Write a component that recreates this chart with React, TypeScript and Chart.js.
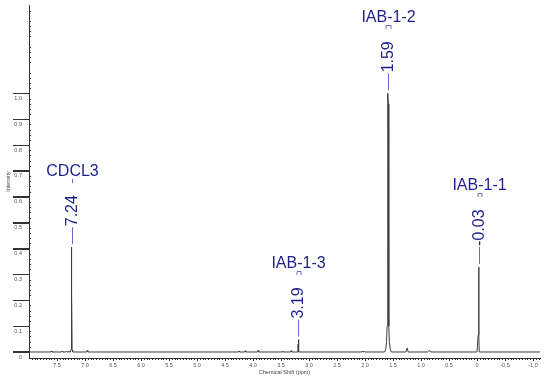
import React, { useEffect, useRef } from 'react';
import { Chart, registerables } from 'chart.js';

Chart.register(...registerables);

// Spectrum (chemical shift in ppm, intensity)
const ppm = [
  8.0, 7.61, 7.6, 7.59, 7.42, 7.41, 7.4, 7.34, 7.33, 7.32, 7.3, 7.29, 7.28,
  7.26, 7.25, 7.245, 7.24, 7.235, 7.23, 7.22,
  6.97, 6.96, 6.95,
  4.26, 4.25, 4.24, 4.15, 4.14, 4.13, 3.92, 3.91, 3.9,
  3.48, 3.47, 3.46, 3.33, 3.32, 3.31,
  3.2, 3.195, 3.19, 3.185, 3.18,
  2.06, 2.05, 2.04, 2.02, 2.01, 2.0,
  1.65, 1.63, 1.615, 1.605, 1.598, 1.59, 1.582, 1.575, 1.565, 1.55, 1.53,
  1.27, 1.255, 1.245, 1.23,
  0.88, 0.86, 0.84, 0.82,
  0.0, -0.02, -0.03, -0.035, -0.04,
  -1.125,
];
const intensity = [
  0, 0, 0.004, 0, 0, 0.003, 0, 0, 0.003, 0, 0, 0.004, 0,
  0, 0.01, 0.24, 0.405, 0.24, 0.008, 0,
  0, 0.006, 0,
  0, 0.004, 0, 0, 0.005, 0, 0, 0.006, 0,
  0, 0.004, 0, 0, 0.005, 0,
  0, 0.03, 0.048, 0.03, 0,
  0, 0.003, 0, 0, 0.003, 0,
  0, 0.01, 0.04, 0.1, 0.96, 1.0, 0.96, 0.1, 0.04, 0.01, 0,
  0, 0.012, 0.015, 0,
  0, 0.004, 0.005, 0,
  0, 0.065, 0.329, 0.065, 0,
  0,
];

const xTickValues = [7.5, 7.0, 6.5, 6.0, 5.5, 5.0, 4.5, 4.0, 3.5, 3.0, 2.5, 2.0, 1.5, 1.0, 0.5, 0, -0.5, -1.0];
const yTickValues = [0, 0.1, 0.2, 0.3, 0.4, 0.5, 0.6, 0.7, 0.8, 0.9, 1.0];

// Peak annotations
const peakShifts = [7.24, 3.19, 1.59, -0.03];
const peakHeights = [0.405, 0.048, 1.0, 0.329];
const shiftLabels = ['7.24', '3.19', '1.59', '-0.03'];
const peakNames = ['CDCL3', 'IAB-1-3', 'IAB-1-2', 'IAB-1-1'];
const bracketWidths = [0, 4, 5, 4];

const FONT = '"Liberation Sans", Arial, sans-serif';
const AXIS_COLOR = '#333333';
const NAVY = '#1e1e8c';
const LINE_BLUE = '#6a6acc';

const fmt = (v: number) => (Math.abs(v) < 1e-9 ? '0' : v.toFixed(1));

const extrasPlugin = {
  id: 'nmrExtras',
  afterDraw(chart: any) {
    const ctx = chart.ctx as CanvasRenderingContext2D;
    const xs = chart.scales.x;
    const ys = chart.scales.y;
    const area = chart.chartArea;
    ctx.save();
    ctx.strokeStyle = AXIS_COLOR;
    ctx.lineWidth = 1;
    ctx.beginPath();
    // major tick lines on y axis (left of axis)
    for (const v of yTickValues) {
      const py = Math.round(ys.getPixelForValue(v)) + 0.5;
      ctx.moveTo(area.left - 16, py);
      ctx.lineTo(area.left, py);
    }
    // minor ticks on y axis (inside)
    for (let i = 1; i <= 66; i++) {
      if (i % 5 === 0) continue;
      const v = i * 0.02;
      const py = Math.round(ys.getPixelForValue(v)) + 0.5;
      if (py < area.top) break;
      ctx.moveTo(area.left, py);
      ctx.lineTo(area.left + 2, py);
    }
    // minor ticks on x axis (below)
    for (let i = -22; i <= 159; i++) {
      const v = i * 0.05;
      const px = Math.round(xs.getPixelForValue(v)) + 0.5;
      if (px < area.left || px > area.right) continue;
      ctx.moveTo(px, area.bottom);
      ctx.lineTo(px, area.bottom + 2);
    }
    ctx.stroke();

    // peak annotations
    for (let k = 0; k < peakShifts.length; k++) {
      const x = Math.round(xs.getPixelForValue(peakShifts[k])) + 0.5;
      const yTop = ys.getPixelForValue(peakHeights[k]);
      ctx.strokeStyle = LINE_BLUE;
      ctx.lineWidth = 1;
      ctx.beginPath();
      ctx.moveTo(x, yTop - 3);
      ctx.lineTo(x, yTop - 20);
      ctx.stroke();

      ctx.font = `16px ${FONT}`;
      const w = ctx.measureText(shiftLabels[k]).width;
      const textBottom = yTop - 21;
      ctx.save();
      ctx.translate(x, textBottom);
      ctx.rotate(-Math.PI / 2);
      ctx.fillStyle = NAVY;
      ctx.textAlign = 'left';
      ctx.textBaseline = 'middle';
      ctx.fillText(shiftLabels[k], 0, 0);
      ctx.restore();

      const bBottom = Math.round(textBottom - w - 12);
      const bTop = bBottom - 4;
      const bw = bracketWidths[k];
      ctx.strokeStyle = LINE_BLUE;
      ctx.beginPath();
      if (bw === 0) {
        ctx.moveTo(x, bBottom);
        ctx.lineTo(x, bTop);
      } else {
        const l = Math.round(x - bw / 2);
        ctx.moveTo(l, bBottom);
        ctx.lineTo(l, bTop + 0.5);
        ctx.lineTo(l + bw, bTop + 0.5);
        ctx.lineTo(l + bw, bBottom);
      }
      ctx.stroke();

      ctx.fillStyle = NAVY;
      ctx.textAlign = 'center';
      ctx.textBaseline = 'alphabetic';
      ctx.fillText(peakNames[k], x, bTop - 3);
    }
    ctx.restore();
  },
};

export default function App() {
  const canvasRef = useRef<HTMLCanvasElement | null>(null);

  useEffect(() => {
    const canvas = canvasRef.current;
    if (!canvas) return;
    Chart.defaults.font.family = FONT;
    const points = ppm.map((p, i) => ({ x: p, y: intensity[i] }));
    const chart = new Chart(canvas, {
      type: 'scatter',
      data: {
        datasets: [
          {
            data: points,
            showLine: true,
            borderColor: '#3c3c3c',
            borderWidth: 1,
            pointRadius: 0,
            tension: 0,
          },
        ],
      },
      options: {
        responsive: false,
        animation: false,
        devicePixelRatio: 1,
        layout: { padding: { top: 5, right: 10, left: 0, bottom: 0 } },
        plugins: {
          legend: { display: false },
          tooltip: { enabled: false },
        },
        scales: {
          x: {
            type: 'linear',
            reverse: true,
            min: -1.125,
            max: 8.0,
            position: 'bottom',
            border: { display: true, color: AXIS_COLOR, width: 1 },
            grid: { drawOnChartArea: false, drawTicks: true, tickLength: 3, color: AXIS_COLOR },
            ticks: {
              autoSkip: false,
              maxRotation: 0,
              padding: 1,
              color: '#555',
              font: { size: 5.5 },
              callback: (v: any) => fmt(Number(v)),
            },
            afterBuildTicks: (scale: any) => {
              scale.ticks = xTickValues.map((v) => ({ value: v }));
            },
            afterFit: (scale: any) => {
              scale.height = 23;
            },
            title: {
              display: true,
              text: 'Chemical Shift (ppm)',
              color: '#444',
              font: { size: 5.5 },
              padding: { top: 0, bottom: 5 },
            },
          },
          y: {
            type: 'linear',
            min: -0.0232,
            max: 1.3417,
            border: { display: true, color: AXIS_COLOR, width: 1 },
            grid: { drawOnChartArea: false, drawTicks: true, tickLength: 16, color: AXIS_COLOR },
            ticks: {
              autoSkip: false,
              padding: -9,
              labelOffset: 5,
              color: '#555',
              font: { size: 5.5 },
              callback: (v: any) => fmt(Number(v)),
            },
            afterBuildTicks: (scale: any) => {
              scale.ticks = yTickValues.map((v) => ({ value: v }));
            },
            afterFit: (scale: any) => {
              scale.width = 29;
            },
            title: {
              display: true,
              text: 'Intensity',
              color: '#444',
              font: { size: 5.5 },
              padding: { top: 5, bottom: 0 },
            },
          },
        },
      },
      plugins: [extrasPlugin],
    } as any);
    return () => chart.destroy();
  }, []);

  return (
    <div style={{ position: 'absolute', left: 0, top: 0, width: 550, height: 381, background: '#fff' }}>
      <canvas ref={canvasRef} width={550} height={381} style={{ display: 'block', width: 550, height: 381 }} />
    </div>
  );
}
